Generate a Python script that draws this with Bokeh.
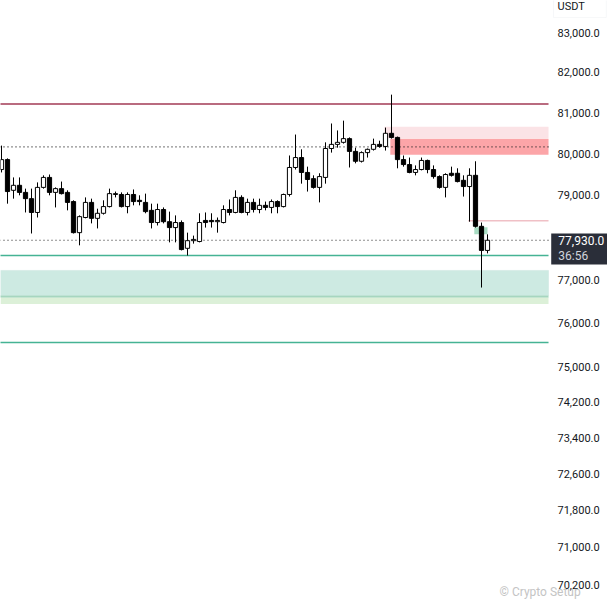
from bokeh.plotting import figure
from bokeh.models import (Range1d, FixedTicker, NumeralTickFormatter,
                          BoxAnnotation, Label, ColumnDataSource)
from bokeh.embed import file_html
from bokeh.resources import INLINE

# ---- candle data (BTC/USDT) ----
opens = [79620, 79860, 79120, 79240, 79070, 78920, 78590, 79190, 79430, 79070,
         79160, 79070, 78850, 78110, 78470, 78830, 78450, 78570, 78730, 79020,
         79020, 78730, 79020, 78880, 78830, 78640, 78350, 78660, 78370, 78230,
         78350, 77740, 77920, 77900, 78400, 78400, 78370, 78350, 78660, 78590,
         78950, 78590, 78830, 78660, 78760, 78710, 78850, 78730, 79020, 79670,
         79910, 79550, 79400, 79190, 79430, 80130, 80230, 80280, 80370, 80060,
         79820, 80030, 80110, 80230, 80180, 80500, 80400, 79860, 79740, 79550,
         79620, 79840, 79620, 79450, 79190, 79530, 79530, 79360, 79210, 79480,
         78260, 77690]
highs = [80200, 79890, 79430, 79430, 79160, 79160, 79310, 79480, 79500, 79190,
         79330, 79120, 78880, 78520, 78950, 78920, 78680, 78880, 79160, 79090,
         79070, 79070, 79140, 79000, 79040, 78800, 78800, 78710, 78610, 78520,
         78400, 78110, 78040, 78570, 78590, 78570, 78470, 78760, 78900, 79120,
         79000, 78920, 78920, 78920, 78850, 78900, 78880, 79040, 79960, 80470,
         80110, 79690, 79480, 79530, 80280, 80740, 80570, 80810, 80400, 80150,
         80060, 80130, 80370, 80320, 80640, 81450, 80420, 79960, 79910, 79720,
         79910, 79860, 79720, 79480, 79530, 79690, 79650, 79480, 79650, 79820,
         78350, 78070]
lows = [79550, 78800, 78920, 79000, 78590, 78090, 78470, 79160, 79000, 78710,
        79020, 78640, 78090, 77810, 78450, 78330, 78210, 78540, 78710, 78950,
        78710, 78570, 78760, 78760, 78570, 78210, 78280, 78330, 77880, 77880,
        77690, 77570, 77850, 77880, 78230, 78230, 78110, 78330, 78520, 78570,
        78570, 78520, 78590, 78570, 78640, 78570, 78570, 78710, 78970, 79620,
        79280, 79090, 79160, 78830, 79280, 80030, 80150, 80250, 79670, 79770,
        79790, 79910, 80080, 80150, 80080, 80370, 79650, 79690, 79530, 79480,
        79600, 79530, 79400, 79160, 78950, 79450, 79310, 78970, 78370, 78230,
        76820, 77620]
closes = [79860, 79090, 79240, 79070, 78920, 78590, 79190, 79430, 79070, 79160,
          79040, 78830, 78110, 78490, 78830, 78450, 78570, 78730, 79040, 79040,
          78730, 79020, 78850, 78850, 78610, 78350, 78660, 78370, 78230, 78350,
          77710, 77920, 77950, 78350, 78350, 78370, 78400, 78660, 78590, 78950,
          78590, 78830, 78660, 78760, 78710, 78850, 78730, 79020, 79670, 79910,
          79550, 79380, 79190, 79450, 80130, 80230, 80280, 80370, 80060, 79820,
          80030, 80110, 80230, 80180, 80500, 80400, 79860, 79740, 79550, 79620,
          79840, 79620, 79450, 79190, 79500, 79480, 79330, 79210, 79480, 78260,
          77690, 77930]

# ---- price scale ticks ----
tick_values = [70200, 71000, 71800, 72600, 73400, 74200, 75000, 76000,
               77000, 79000, 80000, 81000, 82000, 83000]

# ---- levels and zones (prices) ----
resistance_level = 81220
dotted_level = 80170
last_price = 77930
last_price_text = "77,930.0"
countdown_text = "36:56"
currency_text = "USDT"
watermark_text = "© Crypto Setup"
supply_light = [80380, 80660]   # bottom, top
supply_strong = [79980, 80370]
supply_starts = [63.8, 64.8]    # candle index where each zone starts
small_pink_level = 78390
small_pink_start = 77.8
small_green = [78070, 78240, 78.8, 81.0]  # bottom, top, left, right
support_line_1 = 77570
demand_zone = [76635, 77220]
demand_edge = 76610
demand_strip = [76440, 76595]
support_line_2 = 75550

# chart area extent in candle-index units (price scale lies to the right)
chart_left = -1.0
chart_right = 91.17
scale_right = 101.0

n = len(opens)
idx = list(range(n))
tops = [max(o, c) for o, c in zip(opens, closes)]
bots = [min(o, c) for o, c in zip(opens, closes)]
fills = ["#ffffff" if c >= o else "#000000" for o, c in zip(opens, closes)]
src = ColumnDataSource(dict(x=idx, high=highs, low=lows, top=tops, bottom=bots, fill=fills))

p = figure(frame_width=607, frame_height=607, x_axis_type=None, y_axis_type="log",
           y_axis_location="right", x_range=Range1d(-0.1667, scale_right),
           y_range=Range1d(69713, 83810), output_backend="svg", toolbar_location=None,
           min_border_left=0, min_border_top=0, min_border_bottom=0, min_border_right=0)
p.outline_line_color = None
p.grid.visible = False
p.background_fill_color = "#ffffff"
p.border_fill_color = "#ffffff"

# zones
def zone(bottom, top, color, left=None, right=chart_right, line=None):
    kw = dict(bottom=bottom, top=top, right=right, fill_color=color, fill_alpha=1,
              line_color=line, level="underlay")
    if left is not None:
        kw["left"] = left
    p.add_layout(BoxAnnotation(**kw))

zone(supply_light[0], supply_light[1], "#fbe3e6", left=supply_starts[0])
zone(supply_strong[0], supply_strong[1], "#fca5a8", left=supply_starts[1])
zone(demand_zone[0], demand_zone[1], "#cdeae2", line="#b8dfd3")
zone(demand_strip[0], demand_strip[1], "#dcf0d8")
zone(small_green[0], small_green[1], "#a9dcc3", left=small_green[2], right=small_green[3])

# horizontal levels
def level(y, color, width=1.2, dash="solid", x0=chart_left):
    p.segment(x0=[x0], y0=[y], x1=[chart_right], y1=[y], line_color=color,
              line_width=width, line_dash=dash)

level(demand_edge, "#a6d6bf", width=2)
level(resistance_level, "#a23a55", width=1.5)
level(dotted_level, "#222222", width=1.2, dash="1 3")
level(last_price, "#222222", width=1.2, dash="1 3")
level(support_line_1, "#45b394", width=1.5)
level(support_line_2, "#45b394", width=1.5)
level(small_pink_level, "#f0c0c6", width=1.5, x0=small_pink_start)

# candles
p.segment(x0="x", y0="low", x1="x", y1="high", source=src, line_color="#000000", line_width=1)
p.vbar(x="x", width=0.7, top="top", bottom="bottom", source=src,
       fill_color="fill", line_color="#000000", line_width=1)

# price scale (labels drawn back over the right strip)
ax = p.yaxis[0]
ax.ticker = FixedTicker(ticks=tick_values)
ax.formatter = NumeralTickFormatter(format="0,0.0")
ax.axis_line_color = None
ax.major_tick_line_color = None
ax.minor_tick_line_color = None
ax.major_tick_out = 0
ax.major_tick_in = 0
ax.minor_tick_out = 0
ax.minor_tick_in = 0
ax.major_label_standoff = -50
ax.major_label_text_align = "left"
ax.major_label_text_font = "Roboto"
ax.major_label_text_font_size = "11px"
ax.major_label_text_color = "#131722"

# last price tag
p.add_layout(BoxAnnotation(left=91.62, right=scale_right, bottom=77360, top=78090,
                           fill_color="#2a2e39", fill_alpha=1, line_color=None))
p.add_layout(Label(x=92.8, y=last_price, text=last_price_text, text_align="left",
                   text_baseline="middle", text_font="Roboto", text_font_size="12px",
                   text_color="#ffffff"))
p.add_layout(Label(x=92.8, y=77560, text=countdown_text, text_align="left",
                   text_baseline="middle", text_font="Roboto", text_font_size="12px",
                   text_color="#d1d4dc"))
# currency box
p.add_layout(BoxAnnotation(left=92.0, right=100.8, bottom=83380, top=83900,
                           fill_color="#ffffff", fill_alpha=1, line_color="#e0e3eb",
                           line_width=1))
p.add_layout(Label(x=92.67, y=83660, text=currency_text, text_align="left",
                   text_baseline="middle", text_font="Roboto", text_font_size="11px",
                   text_color="#131722"))
# watermark
p.add_layout(Label(x=83.0, y=70052, text=watermark_text, text_align="left",
                   text_baseline="middle", text_font="Roboto", text_font_size="12px",
                   text_color="#c4c4c4"))

open("out.html", "w").write(file_html(p, INLINE))
